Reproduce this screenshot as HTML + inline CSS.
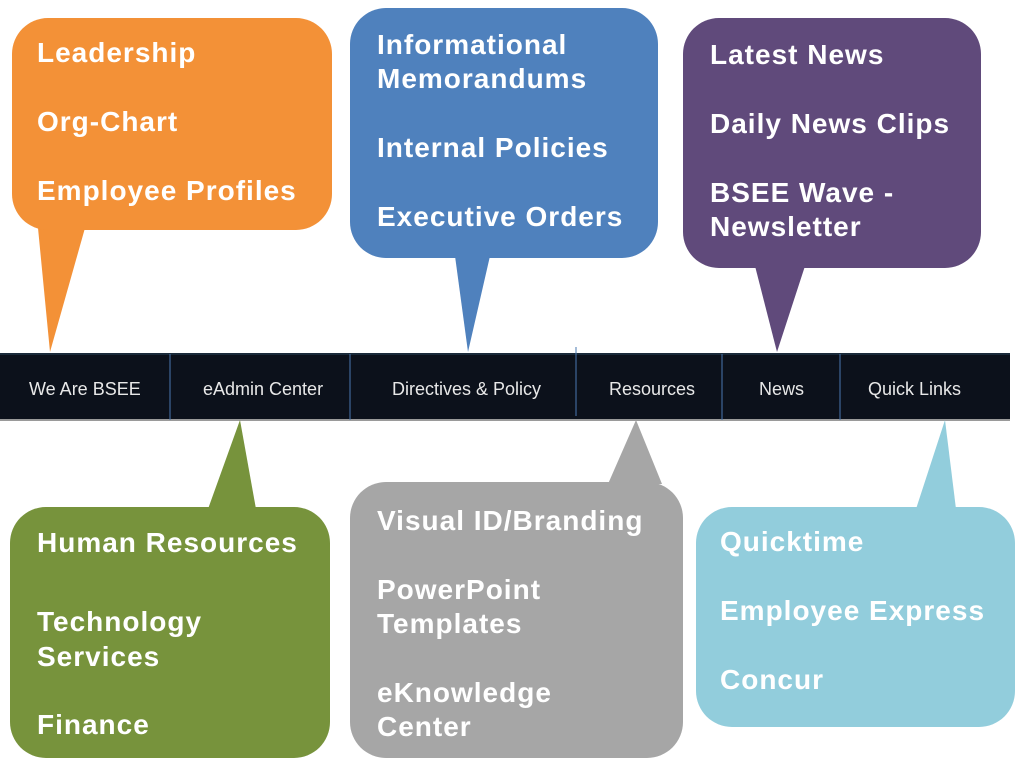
<!DOCTYPE html>
<html><head><meta charset="utf-8"><style>
html,body{margin:0;padding:0;background:#fff;}
svg{display:block}
.t{font-family:"Liberation Sans",Arial,sans-serif;font-weight:bold;font-size:28px;letter-spacing:1px;fill:#fff}
.n{font-family:"Liberation Sans",Arial,sans-serif;font-size:18px;fill:#e8e8e8}
</style></head><body>
<svg width="1019" height="766" viewBox="0 0 1019 766" xmlns="http://www.w3.org/2000/svg">
<rect width="1019" height="766" fill="#fff"/>
<rect x="0" y="353" width="1010" height="67" fill="#0c111b"/>
<rect x="0" y="353" width="1010" height="2" fill="#1a2a3a"/>
<rect x="0" y="419" width="1010" height="2" fill="#9a9a9a"/>
<g stroke="#4a78b0" stroke-width="1">
<line x1="170" y1="354" x2="170" y2="420"/>
<line x1="350" y1="354" x2="350" y2="420"/>
<line x1="576" y1="347" x2="576" y2="416"/>
<line x1="722" y1="354" x2="722" y2="420"/>
<line x1="840" y1="354" x2="840" y2="420"/>
</g>
<text class="n" x="29" y="395">We Are BSEE</text>
<text class="n" x="203" y="395">eAdmin Center</text>
<text class="n" x="392" y="395">Directives &amp; Policy</text>
<text class="n" x="609" y="395">Resources</text>
<text class="n" x="759" y="395">News</text>
<text class="n" x="868" y="395">Quick Links</text>

<polygon points="38,228 85,228 50,352" fill="#F39137"/>
<rect x="12" y="18" width="320" height="212" rx="36" fill="#F39137"/>
<text class="t" x="37" y="62">Leadership</text>
<text class="t" x="37" y="131">Org-Chart</text>
<text class="t" x="37" y="200">Employee Profiles</text>

<polygon points="455,256 490,256 468,352" fill="#4F81BD"/>
<rect x="350" y="8" width="308" height="250" rx="36" fill="#4F81BD"/>
<text class="t" x="377" y="54">Informational</text>
<text class="t" x="377" y="88">Memorandums</text>
<text class="t" x="377" y="157">Internal Policies</text>
<text class="t" x="377" y="226">Executive Orders</text>

<polygon points="755,266 805,266 777,352" fill="#604A7B"/>
<rect x="683" y="18" width="298" height="250" rx="36" fill="#604A7B"/>
<text class="t" x="710" y="64">Latest News</text>
<text class="t" x="710" y="133">Daily News Clips</text>
<text class="t" x="710" y="202">BSEE Wave -</text>
<text class="t" x="710" y="236">Newsletter</text>

<polygon points="208,509 256,509 240,420" fill="#77933C"/>
<rect x="10" y="507" width="320" height="251" rx="36" fill="#77933C"/>
<text class="t" x="37" y="552">Human Resources</text>
<text class="t" x="37" y="631">Technology</text>
<text class="t" x="37" y="666">Services</text>
<text class="t" x="37" y="734">Finance</text>

<polygon points="608,484 662,484 636,420" fill="#A6A6A6"/>
<rect x="350" y="482" width="333" height="276" rx="36" fill="#A6A6A6"/>
<text class="t" x="377" y="530">Visual ID/Branding</text>
<text class="t" x="377" y="599">PowerPoint</text>
<text class="t" x="377" y="633">Templates</text>
<text class="t" x="377" y="702">eKnowledge</text>
<text class="t" x="377" y="736">Center</text>

<polygon points="916,509 956,509 945,420" fill="#92CDDC"/>
<rect x="696" y="507" width="319" height="220" rx="36" fill="#92CDDC"/>
<text class="t" x="720" y="551">Quicktime</text>
<text class="t" x="720" y="620">Employee Express</text>
<text class="t" x="720" y="689">Concur</text>
</svg>
</body></html>
